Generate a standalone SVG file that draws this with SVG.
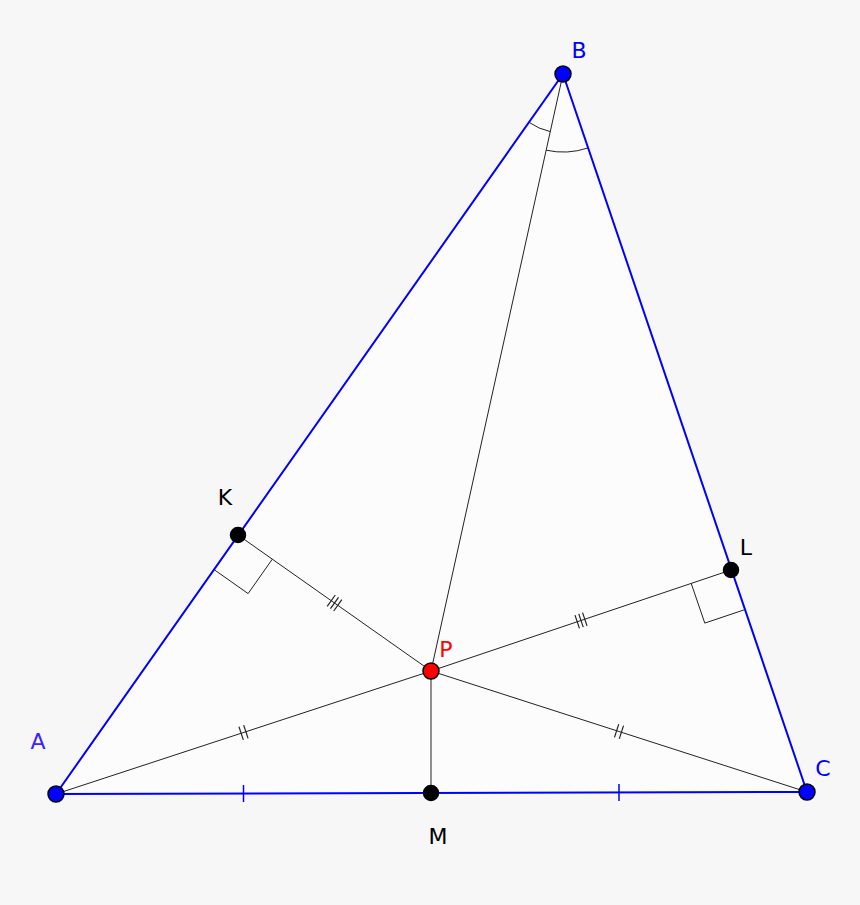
<svg xmlns="http://www.w3.org/2000/svg" width="860" height="905" viewBox="0 0 860 905">
<style>
.side{stroke:#0000ff;stroke-width:2;fill:none;stroke-linecap:round}
.thin{stroke:#222;stroke-width:1;fill:none}
.tick{stroke:#222;stroke-width:1.2;fill:none}
.btick{stroke:#0000ff;stroke-width:1.5;fill:none}
.lbl{font-family:"DejaVu Sans",sans-serif;font-size:22px;text-anchor:middle}
.pt{stroke:#000;stroke-width:1.5}
</style>
<rect x="0" y="0" width="860" height="905" fill="#f7f7f7"/>
<polygon points="56,794 563,74 807,792" fill="#fcfcfc" stroke="none"/>
<g id="connectors">
<line class="thin" x1="563" y1="74" x2="431" y2="671"/>
<line class="thin" x1="56" y1="794" x2="431" y2="671"/>
<line class="thin" x1="807" y1="792" x2="431" y2="671"/>
<line class="thin" x1="238" y1="535" x2="431" y2="671"/>
<line class="thin" x1="731" y1="570" x2="431" y2="671"/>
<line class="thin" x1="431" y1="671" x2="431" y2="793"/>
<path class="thin" d="M529,122.3 A59,59 0 0 0 550.3,131.6"/>
<path class="thin" d="M546.2,150.2 A78,78 0 0 0 588.1,147.9"/>
<polyline class="thin" points="213.8,569.4 248.1,593.6 272.3,559.2"/>
<polyline class="thin" points="691.2,583.4 704.8,623.1 744.6,609.7"/>
<g transform="translate(334.5,603) rotate(35.2)">
<line class="tick" x1="-4" y1="-7" x2="-4" y2="7"/><line class="tick" x1="0" y1="-7" x2="0" y2="7"/><line class="tick" x1="4" y1="-7" x2="4" y2="7"/>
</g>
<g transform="translate(581,620.5) rotate(-18.6)">
<line class="tick" x1="-4" y1="-7" x2="-4" y2="7"/><line class="tick" x1="0" y1="-7" x2="0" y2="7"/><line class="tick" x1="4" y1="-7" x2="4" y2="7"/>
</g>
<g transform="translate(243.5,732.5) rotate(-18.2)">
<line class="tick" x1="-2.5" y1="-7" x2="-2.5" y2="7"/><line class="tick" x1="2.5" y1="-7" x2="2.5" y2="7"/>
</g>
<g transform="translate(619,731.5) rotate(17.8)">
<line class="tick" x1="-2.5" y1="-7" x2="-2.5" y2="7"/><line class="tick" x1="2.5" y1="-7" x2="2.5" y2="7"/>
</g>
<line class="side" x1="56" y1="794" x2="563" y2="74"/>
<line class="side" x1="563" y1="74" x2="807" y2="792"/>
<line class="side" x1="56" y1="794" x2="807" y2="792"/>
<line class="btick" x1="243.5" y1="785" x2="243.5" y2="802"/>
<line class="btick" x1="619" y1="784" x2="619" y2="801"/>
</g>
<g id="A"><circle class="pt" cx="56" cy="794" r="8" fill="#0000ff"/><text class="lbl" x="38" y="749" fill="#4020ff">A</text></g>
<g id="B"><circle class="pt" cx="563" cy="74" r="8" fill="#0000ff"/><text class="lbl" x="579" y="58" fill="#0000ff">B</text></g>
<g id="C"><circle class="pt" cx="807" cy="792" r="8" fill="#0000ff"/><text class="lbl" x="823" y="776" fill="#0000ff">C</text></g>
<g id="K"><circle class="pt" cx="238" cy="535" r="7.5" fill="#000"/><text class="lbl" x="225" y="505" fill="#000">K</text></g>
<g id="L"><circle class="pt" cx="731" cy="570" r="7.5" fill="#000"/><text class="lbl" x="746" y="555" fill="#000">L</text></g>
<g id="M"><circle class="pt" cx="431" cy="793" r="7.5" fill="#000"/><text class="lbl" x="438" y="844" fill="#000">M</text></g>
<g id="P"><circle class="pt" cx="431" cy="671" r="8" fill="#ff0000"/><text class="lbl" x="446" y="657" fill="#ff0000">P</text></g>
</svg>
